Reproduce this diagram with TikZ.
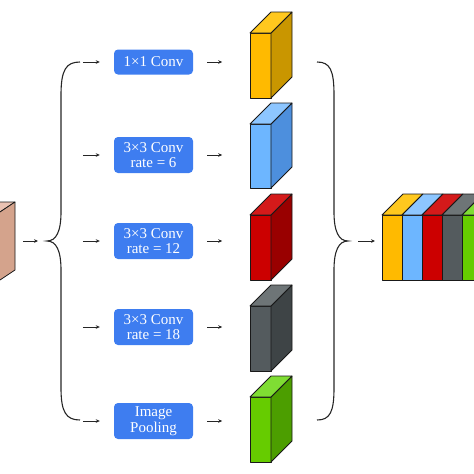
\documentclass[tikz,border=0pt]{standalone}
\usepackage{fontspec}
\setmainfont{Liberation Serif}
\usetikzlibrary{arrows.meta}
\definecolor{boxblue}{RGB}{62,125,240}
\definecolor{yF}{RGB}{255,186,0}\definecolor{yS}{RGB}{201,150,0}\definecolor{yT}{RGB}{255,200,30}
\definecolor{bF}{RGB}{109,182,255}\definecolor{bS}{RGB}{77,143,221}\definecolor{bT}{RGB}{141,198,255}
\definecolor{rF}{RGB}{204,0,0}\definecolor{rS}{RGB}{153,0,0}\definecolor{rT}{RGB}{212,26,26}
\definecolor{gF}{RGB}{84,91,94}\definecolor{gS}{RGB}{62,68,70}\definecolor{gT}{RGB}{110,117,119}
\definecolor{nF}{RGB}{102,204,0}\definecolor{nS}{RGB}{76,158,0}\definecolor{nT}{RGB}{127,221,51}
\definecolor{tS}{RGB}{212,163,140}\definecolor{tT}{RGB}{234,194,178}
\newcommand\cuboid[7]{%
  \filldraw[face,fill=#5] (#1,#2) rectangle ({#1+#3},{#2+#4});
  \filldraw[face,fill=#6] ({#1+#3},#2) -- ++(21,-21) -- ++(0,#4) -- ++(-21,21) -- cycle;
  \filldraw[face,fill=#7] (#1,#2) -- ++(21,-21) -- ++(#3,0) -- ++(-21,21) -- cycle;
}
\newcommand\stripe[3]{%
  \filldraw[face,fill=#2] (#1,215) rectangle ++(20,65);
  \filldraw[face,fill=#3] (#1,215) -- ++(21,-21) -- ++(20,0) -- ++(-21,21) -- cycle;
}
\begin{document}
\begin{tikzpicture}[x=1pt,y=-1pt,
  box/.style={fill=boxblue, rounded corners=4pt, minimum width=79pt, text=white,
    font=\fontsize{15}{15.5}\selectfont, align=center, inner sep=0pt},
  arr/.style={-{Stealth[length=4pt,width=3.6pt]}, line width=0.8pt, draw=black!85},
  brace/.style={line width=1.1pt, draw=black!85},
  face/.style={draw=black!90, line width=0.8pt, line join=round}]
\useasboundingbox (0,0) rectangle (474,474);
\clip (0,0) rectangle (474,474);
% input tensor (partly visible)
\filldraw[face,fill=tT] (-15,222) -- (15,202) -- (-40,202) -- (-70,222) -- cycle;
\filldraw[face,fill=tS] (-15,222) -- (15,202) -- (15,270) -- (-15,290) -- cycle;
\coordinate (in) at (23,241);
\coordinate (inE) at (38,241);
\draw[arr] (in) -- (inE);
% left brace
\draw[brace] (80,62) .. controls (66,62) and (61,70) .. (61,95) -- (61,212)
  .. controls (61,232) and (56,241) .. (47,241)
  .. controls (56,241) and (61,250) .. (61,270) -- (61,388)
  .. controls (61,412) and (66,420) .. (80,420);
% boxes
\node[box, minimum height=25pt] (b1) at (153.5,62) {1×1 Conv};
\node[box, minimum height=36pt] (b2) at (153.5,155) {3×3 Conv\\rate = 6};
\node[box, minimum height=36pt] (b3) at (153.5,241) {3×3 Conv\\rate = 12};
\node[box, minimum height=36pt] (b4) at (153.5,327) {3×3 Conv\\rate = 18};
\node[box, minimum height=36pt] (b5) at (153.5,421) {Image\\Pooling};
\foreach \b in {b1,b2,b3,b4,b5}{
  \draw[arr] (\b.west) ++(-31,0) -- ++(17,0);
  \draw[arr] (\b.east) ++(14,0) -- ++(15,0);
}
% feature maps
\cuboid{250}{33}{21}{65}{yF}{yS}{yT}
\cuboid{250}{124}{21}{64}{bF}{bS}{bT}
\cuboid{250}{215}{21}{65}{rF}{rS}{rT}
\cuboid{250}{306}{21}{65}{gF}{gS}{gT}
\cuboid{250}{397}{21}{65}{nF}{nS}{nT}
% right brace
\draw[brace] (317,62) .. controls (330,62) and (334,70) .. (334,95) -- (334,212)
  .. controls (334,232) and (339,241) .. (348,241)
  .. controls (339,241) and (334,250) .. (334,270) -- (334,388)
  .. controls (334,412) and (330,420) .. (317,420);
\coordinate (out) at (358,241);
\coordinate (outE) at (375,241);
\draw[arr] (out) -- (outE);
% concatenated tensor
\stripe{382}{yF}{yT}
\stripe{402}{bF}{bT}
\stripe{422}{rF}{rT}
\stripe{442}{gF}{gT}
\stripe{462}{nF}{nT}
\end{tikzpicture}
\end{document}
